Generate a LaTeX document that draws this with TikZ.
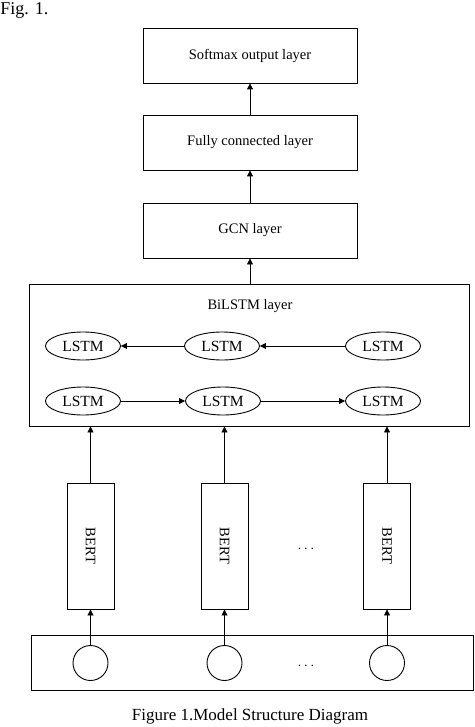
\documentclass[tikz,border=0pt]{standalone}
\usepackage{fontspec}
\setmainfont{Liberation Serif}
\usetikzlibrary{arrows.meta,shapes.geometric}
\begin{document}
\begin{tikzpicture}[x=1pt,y=-1pt,
  font=\fontsize{14.5}{17}\selectfont,
  line width=0.9pt,
  layer/.style={draw,minimum width=214pt,minimum height=55pt,inner sep=0pt},
  lstm/.style={draw,ellipse,minimum width=75pt,minimum height=28pt,inner sep=0pt,font=\fontsize{15.5}{18}\selectfont},
  bert/.style={draw,minimum width=47pt,minimum height=126pt,inner sep=0pt},
  inp/.style={draw,circle,minimum size=35pt,inner sep=0pt},
  arr/.style={-{Triangle[length=6pt,width=6pt]}}]
\useasboundingbox (0,0) rectangle (474,727);
\node[anchor=base west,font=\fontsize{18}{20}\selectfont,inner sep=0pt] (fig) at (0,15) {Fig. 1.};
\node[layer] (soft) at (250,55.5) {Softmax output layer};
\node[layer] (fc) at (250,142.5) {Fully connected layer};
\node[layer] (gcn) at (250,230.5) {GCN layer};
\node[draw,minimum width=440pt,minimum height=142pt,inner sep=0pt] (bil) at (249,355) {};
\node (biltxt) at (250,306) {BiLSTM layer};
\node[lstm] (t1) at (83,346) {LSTM};
\node[lstm] (t2) at (222,346) {LSTM};
\node[lstm] (t3) at (383,346) {LSTM};
\node[lstm] (b1) at (83,401) {LSTM};
\node[lstm] (b2) at (223,401) {LSTM};
\node[lstm] (b3) at (383,401) {LSTM};
\node[bert] (e1) at (90.5,546) {};
\node[bert] (e2) at (224.5,546) {};
\node[bert] (e3) at (387,546) {};
\node[rotate=-90] at (e1.center) {BERT};
\node[rotate=-90] at (e2.center) {BERT};
\node[rotate=-90] at (e3.center) {BERT};
\node (d1) at (306,549) {$\cdots$};
\node[draw,minimum width=442pt,minimum height=55pt,inner sep=0pt] (inbox) at (252,662.5) {};
\node[inp] (c1) at (90.5,663) {};
\node[inp] (c2) at (224.5,663) {};
\node[inp] (c3) at (387,663) {};
\node (d2) at (306,666) {$\cdots$};
\node[font=\fontsize{17}{20}\selectfont] (cap) at (250,716) {Figure 1.Model Structure Diagram};
\draw[arr] (fc) -- (soft);
\draw[arr] (gcn) -- (fc);
\draw[arr] (gcn.south |- bil.north) -- (gcn.south);
\draw[arr] (t3) -- (t2);
\draw[arr] (t2) -- (t1);
\draw[arr] (b1) -- (b2);
\draw[arr] (b2) -- (b3);
\draw[arr] (e1.north) -- (e1.north |- bil.south);
\draw[arr] (e2.north) -- (e2.north |- bil.south);
\draw[arr] (e3.north) -- (e3.north |- bil.south);
\draw[arr] (c1) -- (e1);
\draw[arr] (c2) -- (e2);
\draw[arr] (c3) -- (e3);
\end{tikzpicture}
\end{document}
